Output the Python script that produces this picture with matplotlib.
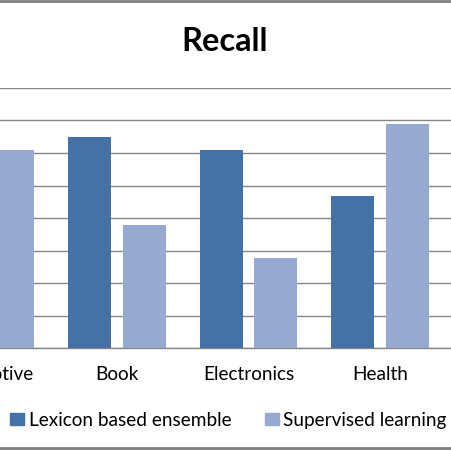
import matplotlib
matplotlib.use("Agg")
import matplotlib.pyplot as plt
from matplotlib.patches import Patch
from matplotlib.lines import Line2D
import numpy as np

categories = ["Automotive", "Book", "Electronics", "Health"]
lexicon = [0.55, 0.649, 0.609, 0.468]
supervised = [0.609, 0.378, 0.276, 0.690]
series_names = ["Lexicon based ensemble", "Supervised learning"]

dark_blue = "#4571A7"
light_blue = "#95A9D1"
grid_gray = "#868686"

plt.rcParams["font.family"] = ["Lato", "DejaVu Sans"]

fig = plt.figure(figsize=(4.51, 4.51), dpi=100)
ax = fig.add_axes([0, 103 / 451, 1, 260 / 451])

x = np.arange(len(categories))
width = 0.327
ax.bar(x - 0.208, lexicon, width, color=dark_blue, zorder=3)
ax.bar(x + 0.208, supervised, width, color=light_blue, zorder=3)

ax.set_yticks(np.arange(0, 0.81, 0.1))
ax.yaxis.grid(True, color=grid_gray, linewidth=1.0, zorder=0)
ax.set_yticklabels([])
ax.tick_params(axis="y", length=0)
ax.set_xticks([])
# the chart is cropped on both sides, so the first label sits partly off the
# figure; draw category labels as annotations so they are not dropped
for i, name in zip(x, categories):
    ax.annotate(name, xy=(i, 0), xycoords=("data", "axes fraction"),
                xytext=(0, -13), textcoords="offset points",
                ha="center", va="top", fontsize=13.7, annotation_clip=False)
ax.set_ylim(0, 0.8)
ax.set_xlim(0.112, 3.54)
for s in ["left", "right", "top"]:
    ax.spines[s].set_visible(False)
ax.spines["bottom"].set_color(grid_gray)
ax.spines["bottom"].set_linewidth(1.0)

fig.text(0.497, 0.908, "Recall", ha="center", va="center",
         fontsize=23.5, fontweight="bold")

handles = [Patch(color=dark_blue), Patch(color=light_blue)]
fig.legend(handles, series_names, loc="center", bbox_to_anchor=(0.507, 0.068),
           ncol=2, frameon=False, fontsize=13.7, handlelength=0.7,
           handleheight=0.6, handletextpad=0.25, columnspacing=1.8,
           borderpad=0, borderaxespad=0)

# chart border (top and bottom visible)
fig.add_artist(Line2D([0, 1], [0.997, 0.997], color="#7f7f7f", linewidth=2,
                      transform=fig.transFigure))
fig.add_artist(Line2D([0, 1], [0.006, 0.006], color="#7f7f7f", linewidth=2,
                      transform=fig.transFigure))

fig.savefig("out.png", dpi=100)
